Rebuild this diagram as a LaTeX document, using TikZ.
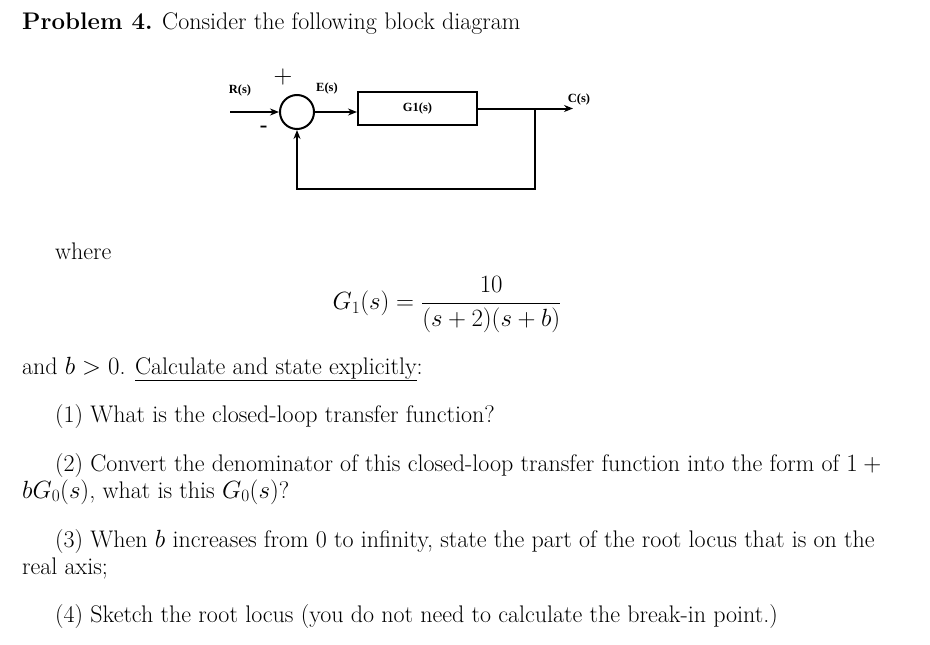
\documentclass[tikz,border=0pt]{standalone}
\usepackage{fontspec}
\newfontfamily\tms{Liberation Serif}
\usetikzlibrary{arrows.meta}
\begin{document}
\begin{tikzpicture}[x=1pt,y=-1pt,
  txt/.style={anchor=base west,inner sep=0pt,font=\fontsize{24}{28}\selectfont},
  lbl/.style={inner sep=0pt,font=\tms\bfseries\fontsize{12.5}{14}\selectfont},
  wire/.style={line width=2pt},
  arr/.style={wire,-{Stealth[length=9pt,width=7pt]}}]
\useasboundingbox (0,0) rectangle (930,645);
\node[txt] (t0) at (22,30) {\textbf{Problem 4.} Consider the following block diagram};
% block diagram
\coordinate (rin) at (230,112);
\node[circle,draw,line width=2pt,minimum size=34pt,inner sep=0pt] (sum) at (297,112) {};
\node[draw,line width=2pt,minimum width=119pt,minimum height=33pt,inner sep=0pt,lbl] (g1) at (417.5,108.5) {G1(s)};
\coordinate (br) at (535,108.5);
\coordinate (cout) at (573,108.5);
\coordinate (fb1) at (535,189);
\coordinate (fb2) at (297,189);
\draw[arr] (rin) -- (sum.west);
\draw[arr] (sum.east) -- (g1.west |- sum.east);
\draw[wire] (g1.east) -- (br);
\draw[arr] (br) -- (cout);
\draw[arr] (br) -- (fb1) -- (fb2) -- (sum.south);
\node[lbl] (rl) at (240,90) {R(s)};
\node[lbl] (el) at (327,88) {E(s)};
\node[lbl] (cl) at (579,99) {C(s)};
\node[inner sep=0pt,font=\fontsize{26}{28}\selectfont] (pl) at (283,77) {+};
\node[inner sep=0pt,font=\bfseries\fontsize{20}{22}\selectfont] (ml) at (264,129) {-};
% text
\node[txt] (t1) at (55,259) {where};
\node[inner sep=0pt,anchor=center,font=\fontsize{24}{28}\selectfont] (eq) at (447,305) {$\displaystyle G_1(s)=\frac{10}{(s+2)(s+b)}$};
\node[txt] (t2) at (22,374) {and $b>0$. \underline{Calculate and state explicitly}:};
\node[txt] (t3) at (55,422) {(1) What is the closed-loop transfer function?};
\node[txt] (t4a) at (55,471) {(2) Convert the denominator of this closed-loop transfer function into the form of $1+{}$};
\node[txt] (t4b) at (22,498) {$bG_0(s)$, what is this $G_0(s)$?};
\node[txt] (t5a) at (55,547) {(3) When $b$ increases from 0 to infinity, state the part of the root locus that is on the};
\node[txt] (t5b) at (22,574) {real axis;};
\node[txt] (t6) at (55,622) {(4) Sketch the root locus (you do not need to calculate the break-in point.)};
\end{tikzpicture}
\end{document}
